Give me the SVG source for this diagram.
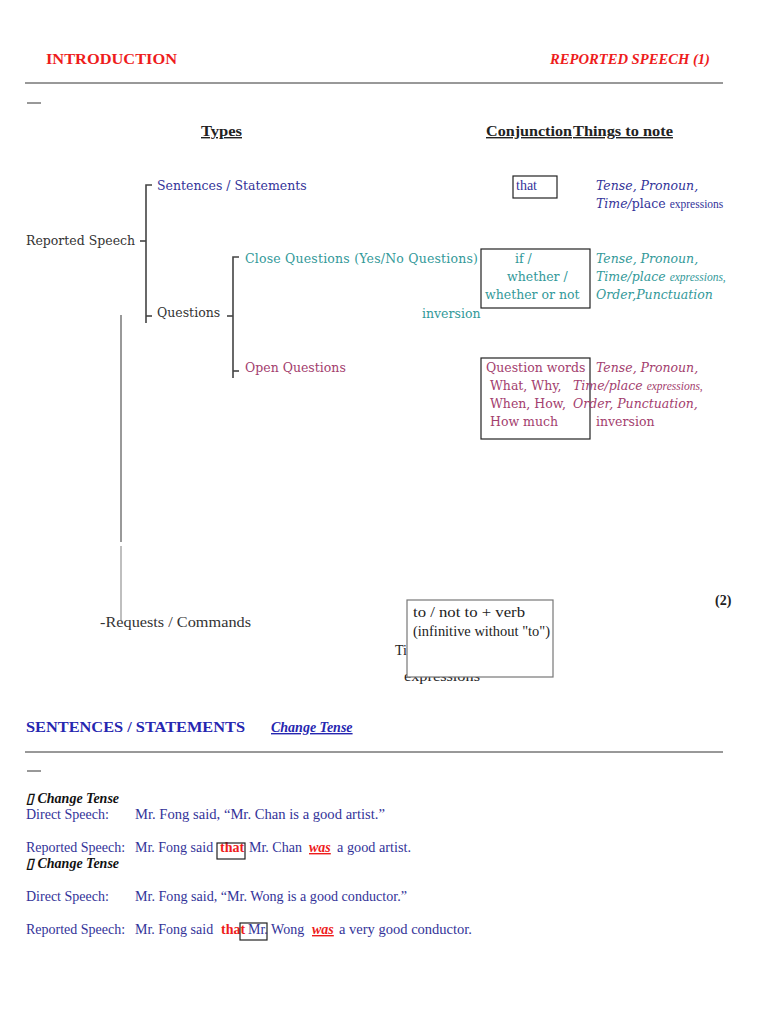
<svg xmlns="http://www.w3.org/2000/svg" width="768" height="1024" viewBox="0 0 768 1024">
<style>
.t{font-family:"Liberation Serif","Times New Roman",serif;font-size:14px}
.d{font-family:"DejaVu Serif",serif;font-size:12.5px}
.red{fill:#ee1c1c}
.navy{fill:#333399}
.teal{fill:#339999}
.plum{fill:#a3406e}
.dark{fill:#333}
.b{font-weight:bold}
.i{font-style:italic}
.u{text-decoration:underline}
.sm{font-size:11.5px}
.rule{stroke:#333;stroke-width:1}
.br{stroke:#444;stroke-width:1.6;fill:none}
.box{fill:none;stroke:#222;stroke-width:1.2}
</style>
<rect width="768" height="1024" fill="#fff"/>
<g id="header">
<text class="t b red" x="46" y="64" font-size="16" textLength="131" lengthAdjust="spacingAndGlyphs">INTRODUCTION</text>
<text class="t b i red" x="550" y="64" textLength="160" lengthAdjust="spacingAndGlyphs">REPORTED SPEECH (1)</text>
<line class="rule" x1="25" y1="83" x2="723" y2="83"/>
<line class="rule" x1="27" y1="103" x2="41" y2="103"/>
<text class="t b u" x="201" y="136" fill="#222" font-size="15" textLength="41" lengthAdjust="spacingAndGlyphs">Types</text>
<text class="t b u" x="486" y="136" fill="#222" font-size="15" textLength="86" lengthAdjust="spacingAndGlyphs">Conjunction</text>
<text class="t b u" x="573" y="136" fill="#222" font-size="15" textLength="100" lengthAdjust="spacingAndGlyphs">Things to note</text>
</g>
<g id="connectors">
<path class="br" d="M152 185H146V323"/>
<path class="br" d="M140 241H146"/>
<path class="br" d="M146 316H152"/>
<path class="br" d="M239 257H233V378"/>
<path class="br" d="M227 316H233"/>
<path class="br" d="M233 371H239"/>
<line x1="121" y1="315" x2="121" y2="542" stroke="#777" stroke-width="1.5"/>
<line x1="121" y1="546" x2="121" y2="620" stroke="#aaa" stroke-width="1.5"/>
</g>
<g id="node-reported-speech"><text class="d dark" x="26" y="245">Reported Speech</text></g>
<g id="node-sentences"><text class="d navy" x="157" y="190">Sentences / Statements</text></g>
<g id="node-questions"><text class="d dark" x="157" y="317">Questions</text></g>
<g id="node-close"><text class="d teal" x="245" y="263" textLength="233">Close Questions (Yes/No Questions)</text></g>
<g id="node-open"><text class="d plum" x="245" y="372">Open Questions</text></g>
<g id="node-requests"><text class="t dark" x="100" y="627" font-size="15" textLength="151" lengthAdjust="spacingAndGlyphs">-Requests / Commands</text></g>
<g id="conj-that">
<rect class="box" x="513" y="176" width="44" height="22"/>
<text class="t navy" x="516" y="190">that</text>
</g>
<g id="note-sentences">
<text class="d i navy" x="596" y="190">Tense, Pronoun,</text>
<text class="d navy" x="596" y="208"><tspan class="i">Time/</tspan>place <tspan class="t sm">expressions</tspan></text>
</g>
<g id="conj-close">
<rect class="box" x="481" y="249" width="109" height="59"/>
<text class="d teal" x="515" y="263">if /</text>
<text class="d teal" x="507" y="281">whether /</text>
<text class="d teal" x="485" y="299">whether or not</text>
</g>
<g id="note-close">
<text class="d i teal" x="596" y="263">Tense, Pronoun,</text>
<text class="d i teal" x="596" y="281">Time/place <tspan class="t sm">expressions,</tspan></text>
<text class="d i teal" x="596" y="299">Order,Punctuation</text>
<text class="d teal" x="422" y="318">inversion</text>
</g>
<g id="conj-open">
<rect class="box" x="481" y="358" width="109" height="81"/>
<text class="d plum" x="486" y="372">Question words</text>
<text class="d plum" x="490" y="390">What, Why,</text>
<text class="d plum" x="490" y="408">When, How,</text>
<text class="d plum" x="490" y="426">How much</text>
</g>
<g id="note-open">
<text class="d i plum" x="596" y="372">Tense, Pronoun,</text>
<text class="d i plum" x="573" y="390">Time/place <tspan class="t sm">expressions,</tspan></text>
<text class="d i plum" x="573" y="408">Order, Punctuation,</text>
<text class="d plum" x="596" y="426">inversion</text>
</g>
<g id="note-requests">
<text class="t" x="395" y="655" fill="#222" font-size="15">Ti</text>
<text class="t" x="404" y="681" fill="#222" font-size="14" textLength="76" lengthAdjust="spacingAndGlyphs">expressions</text>
</g>
<g id="conj-requests">
<rect x="407" y="600" width="146" height="77" fill="#fff" stroke="#777" stroke-width="1.2"/>
<text class="t" x="413" y="617" fill="#222" font-size="15" textLength="112" lengthAdjust="spacingAndGlyphs">to / not to + verb</text>
<text class="t" x="413" y="636" fill="#222" font-size="15" textLength="137" lengthAdjust="spacingAndGlyphs">(infinitive without "to")</text>
</g>
<text class="t b" x="715" y="605" fill="#222">(2)</text>
<g id="section2">
<text class="t b" x="26" y="732" fill="#2626b0" font-size="17" textLength="219" lengthAdjust="spacingAndGlyphs">SENTENCES / STATEMENTS</text>
<text class="t b i u" x="271" y="732" fill="#2626b0" font-size="13.5">Change Tense</text>
<line class="rule" x1="25" y1="752" x2="723" y2="752"/>
<line class="rule" x1="27" y1="771" x2="41" y2="771"/>
<text class="t b i" x="26" y="803" fill="#111">▯ Change Tense</text>
<text class="t navy" x="26" y="819" font-size="14.5">Direct Speech:</text>
<text class="t navy" x="135" y="819" font-size="14.5" textLength="250" lengthAdjust="spacingAndGlyphs">Mr. Fong said, “Mr. Chan is a good artist.”</text>
<text class="t navy" x="26" y="852" font-size="14.5">Reported Speech:</text>
<text class="t navy" x="135" y="852" font-size="14.5">Mr. Fong said</text>
<text class="t b red" x="220" y="852">that</text>
<rect class="box" x="217" y="843" width="28" height="16"/>
<text class="t navy" x="249" y="852" font-size="14.5">Mr. Chan</text>
<text class="t b i u red" x="309" y="852">was</text>
<text class="t navy" x="337" y="852" font-size="14.5" textLength="74" lengthAdjust="spacingAndGlyphs">a good artist.</text>
<text class="t b i" x="26" y="868" fill="#111">▯ Change Tense</text>
<text class="t navy" x="26" y="901" font-size="14.5">Direct Speech:</text>
<text class="t navy" x="135" y="901" font-size="14.5" textLength="272" lengthAdjust="spacingAndGlyphs">Mr. Fong said, “Mr. Wong is a good conductor.”</text>
<text class="t navy" x="26" y="934" font-size="14.5">Reported Speech:</text>
<text class="t navy" x="135" y="934" font-size="14.5">Mr. Fong said</text>
<text class="t b red" x="221" y="934">that</text>
<rect class="box" x="240" y="923" width="27" height="17"/>
<text class="t navy" x="248" y="934" font-size="14.5">Mr. Wong</text>
<text class="t b i u red" x="312" y="934">was</text>
<text class="t navy" x="339" y="934" font-size="14.5" textLength="133" lengthAdjust="spacingAndGlyphs">a very good conductor.</text>
</g>
</svg>
